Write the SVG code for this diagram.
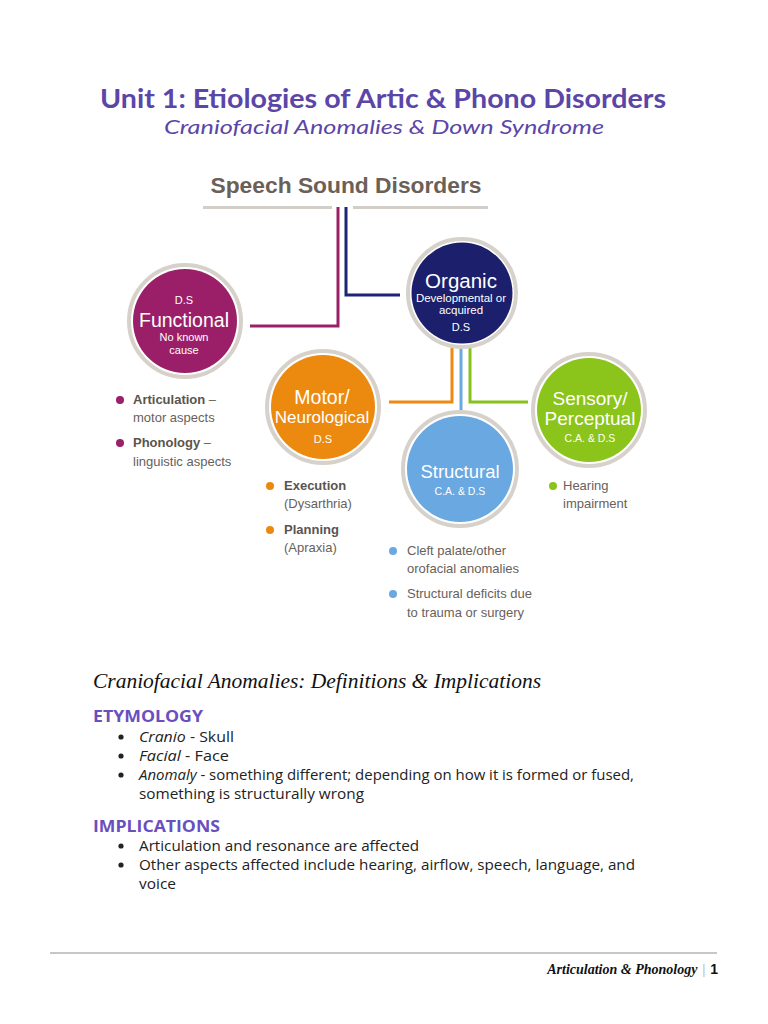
<svg xmlns="http://www.w3.org/2000/svg" width="768" height="1024" viewBox="0 0 768 1024">
<style>
.ring{fill:#ffffff;stroke:#d6d1ca;stroke-width:4}
.lbl{font-family:"Liberation Sans",Arial,sans-serif;fill:#ffffff;text-anchor:middle}
.bul{font-family:"Liberation Sans",Arial,sans-serif;fill:#67615c;font-size:13px}
.bulb{font-weight:bold;fill:#5a544f}
.body{font-family:"Open Sans","Liberation Sans",sans-serif;fill:#222222;font-size:14.5px}
.head{font-family:"Open Sans","Liberation Sans",sans-serif;fill:#6a4fbf;font-size:15.5px;font-weight:bold}
.con{fill:none;stroke-width:3}
</style>
<rect width="768" height="1024" fill="#ffffff"/>
<g id="title">
<text x="383" y="108" font-family="Lato,'Liberation Sans',sans-serif" font-weight="bold" font-size="26" fill="#5b46a8" text-anchor="middle" textLength="566" lengthAdjust="spacingAndGlyphs">Unit 1: Etiologies of Artic &amp; Phono Disorders</text>
<text x="384" y="134" font-family="Lato,'Liberation Sans',sans-serif" font-style="italic" font-size="20" fill="#5b46a8" text-anchor="middle" textLength="440" lengthAdjust="spacingAndGlyphs">Craniofacial Anomalies &amp; Down Syndrome</text>
</g>
<g id="root">
<text x="346" y="193" font-family="'Liberation Sans',Arial,sans-serif" font-weight="bold" font-size="22" fill="#6b6058" text-anchor="middle" textLength="271" lengthAdjust="spacingAndGlyphs">Speech Sound Disorders</text>
</g>
<g id="connectors">
<line x1="203" y1="207.5" x2="332" y2="207.5" stroke="#d3cec8" stroke-width="3"/>
<line x1="353" y1="207.5" x2="488" y2="207.5" stroke="#d3cec8" stroke-width="3"/>
<polyline class="con" stroke="#9c2067" points="338,207 338,326 250,326"/>
<polyline class="con" stroke="#1f2476" points="346,207 346,295 400,295"/>
<polyline class="con" stroke="#ee8a12" points="452,348 452,402 389,402"/>
<polyline class="con" stroke="#6aa9e0" points="461,348 461,412"/>
<polyline class="con" stroke="#86c21c" points="470,348 470,402 528,402"/>
</g>
<g id="organic">
<circle class="ring" cx="462" cy="293" r="54"/>
<circle cx="462" cy="293" r="50.5" fill="#1b1f6c"/>
<text class="lbl" x="461" y="288" font-size="20.5">Organic</text>
<text class="lbl" x="461" y="302" font-size="11.5">Developmental or</text>
<text class="lbl" x="461" y="314" font-size="11.5">acquired</text>
<text class="lbl" x="461" y="331" font-size="11">D.S</text>
</g>
<g id="functional">
<circle class="ring" cx="185" cy="321" r="56"/>
<circle cx="185" cy="321" r="52" fill="#9b1f68"/>
<text class="lbl" x="184" y="304" font-size="11">D.S</text>
<text class="lbl" x="184" y="327" font-size="19.5">Functional</text>
<text class="lbl" x="184" y="341" font-size="11">No known</text>
<text class="lbl" x="184" y="354" font-size="11">cause</text>
</g>
<g id="motor">
<circle class="ring" cx="323" cy="407" r="56"/>
<circle cx="323" cy="407" r="52" fill="#ec8a10"/>
<text class="lbl" x="322" y="404" font-size="19.5">Motor/</text>
<text class="lbl" x="322" y="423" font-size="17">Neurological</text>
<text class="lbl" x="323" y="443" font-size="11" fill="#fbd9b0">D.S</text>
</g>
<g id="sensory">
<circle class="ring" cx="589" cy="410" r="56"/>
<circle cx="589" cy="410" r="52" fill="#8bc41a"/>
<text class="lbl" x="590" y="405" font-size="19">Sensory/</text>
<text class="lbl" x="590" y="425" font-size="19">Perceptual</text>
<text class="lbl" x="590" y="442" font-size="10.5">C.A. &amp; D.S</text>
</g>
<g id="structural">
<circle class="ring" cx="460" cy="469" r="57"/>
<circle cx="460" cy="469" r="53" fill="#6aa8e1"/>
<text class="lbl" x="460" y="478" font-size="18.5">Structural</text>
<text class="lbl" x="460" y="495" font-size="10.5">C.A. &amp; D.S</text>
</g>
<g id="bullets-functional">
<circle cx="120" cy="400" r="4" fill="#9b1f68"/>
<text class="bul" x="133" y="404"><tspan class="bulb">Articulation</tspan> –</text>
<text class="bul" x="133" y="422">motor aspects</text>
<circle cx="120" cy="443" r="4" fill="#9b1f68"/>
<text class="bul" x="133" y="447"><tspan class="bulb">Phonology</tspan> –</text>
<text class="bul" x="133" y="466">linguistic aspects</text>
</g>
<g id="bullets-motor">
<circle cx="270" cy="486" r="4" fill="#ec8a10"/>
<text class="bul" x="284" y="490"><tspan class="bulb">Execution</tspan></text>
<text class="bul" x="284" y="508">(Dysarthria)</text>
<circle cx="270" cy="530" r="4" fill="#ec8a10"/>
<text class="bul" x="284" y="534"><tspan class="bulb">Planning</tspan></text>
<text class="bul" x="284" y="552">(Apraxia)</text>
</g>
<g id="bullets-structural">
<circle cx="393" cy="551" r="4" fill="#6aa8e1"/>
<text class="bul" x="407" y="555">Cleft palate/other</text>
<text class="bul" x="407" y="573">orofacial anomalies</text>
<circle cx="393" cy="594" r="4" fill="#6aa8e1"/>
<text class="bul" x="407" y="598">Structural deficits due</text>
<text class="bul" x="407" y="617">to trauma or surgery</text>
</g>
<g id="bullets-sensory">
<circle cx="553" cy="486" r="4" fill="#8bc41a"/>
<text class="bul" x="563" y="490">Hearing</text>
<text class="bul" x="563" y="508">impairment</text>
</g>
<g id="section">
<text x="93" y="688" font-family="'Liberation Serif','Times New Roman',serif" font-style="italic" font-size="20" fill="#111111" textLength="448" lengthAdjust="spacingAndGlyphs">Craniofacial Anomalies: Definitions &amp; Implications</text>
<text class="head" x="93" y="722" textLength="110" lengthAdjust="spacingAndGlyphs">ETYMOLOGY</text>
<circle cx="121" cy="737" r="2.6" fill="#222222"/>
<text class="body" x="139" y="742" textLength="95" lengthAdjust="spacingAndGlyphs"><tspan font-style="italic">Cranio</tspan> - Skull</text>
<circle cx="121" cy="756" r="2.6" fill="#222222"/>
<text class="body" x="139" y="761" textLength="90" lengthAdjust="spacingAndGlyphs"><tspan font-style="italic">Facial</tspan> - Face</text>
<circle cx="121" cy="775" r="2.6" fill="#222222"/>
<text class="body" x="139" y="780" textLength="495" lengthAdjust="spacingAndGlyphs"><tspan font-style="italic">Anomaly</tspan> - something different; depending on how it is formed or fused,</text>
<text class="body" x="139" y="799" textLength="225" lengthAdjust="spacingAndGlyphs">something is structurally wrong</text>
<text class="head" x="93" y="832" textLength="127" lengthAdjust="spacingAndGlyphs">IMPLICATIONS</text>
<circle cx="121" cy="846" r="2.6" fill="#222222"/>
<text class="body" x="139" y="851" textLength="280" lengthAdjust="spacingAndGlyphs">Articulation and resonance are affected</text>
<circle cx="121" cy="865" r="2.6" fill="#222222"/>
<text class="body" x="139" y="870" textLength="496" lengthAdjust="spacingAndGlyphs">Other aspects affected include hearing, airflow, speech, language, and</text>
<text class="body" x="139" y="889" textLength="37" lengthAdjust="spacingAndGlyphs">voice</text>
</g>
<g id="footer">
<line x1="50" y1="953" x2="717" y2="953" stroke="#b5b5b5" stroke-width="1.5"/>
<text x="718" y="974" text-anchor="end" font-family="'Liberation Serif',serif" font-size="14" fill="#111111"><tspan font-style="italic" font-weight="bold">Articulation &amp; Phonology</tspan><tspan dx="5" fill="#999999">|</tspan><tspan dx="5" font-family="'Liberation Sans',sans-serif" font-weight="bold">1</tspan></text>
</g>
</svg>
